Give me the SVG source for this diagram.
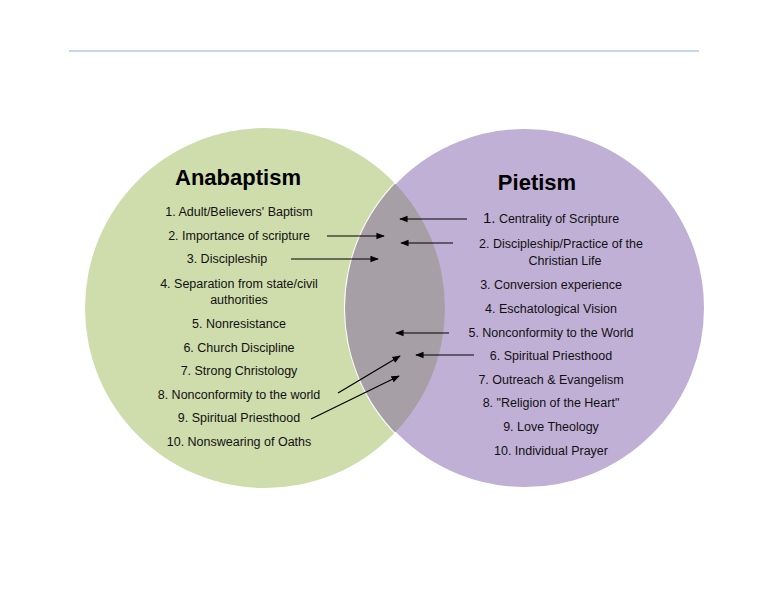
<svg xmlns="http://www.w3.org/2000/svg" width="768" height="594" viewBox="0 0 768 594">
<style>
.t{font-family:"Liberation Sans",Arial,sans-serif;font-size:12.5px;fill:#111;text-anchor:middle}
.h{font-family:"Liberation Sans",Arial,sans-serif;font-size:22px;font-weight:bold;fill:#000;text-anchor:middle}
.a{stroke:#000;stroke-width:1.2;fill:none;marker-end:url(#ar)}
</style>
<defs>
<marker id="ar" viewBox="0 0 10 10" refX="9" refY="5" markerWidth="7" markerHeight="7" orient="auto"><path d="M0,1 L10,5 L0,9 z" fill="#000"/></marker>
<clipPath id="cl"><circle cx="265" cy="308" r="180"/></clipPath>
</defs>
<rect width="768" height="594" fill="#fff"/>
<line x1="69" y1="51" x2="699" y2="51" stroke="#8fb0e0" stroke-width="1.2"/>
<g id="anabaptism"><circle cx="265" cy="308" r="180" fill="#cfdcac"/></g>
<g id="pietism"><circle cx="525" cy="308" r="180" fill="#c0b0d6" stroke="#fff" stroke-width="2"/></g>
<g id="overlap"><circle cx="525" cy="308" r="180" fill="#a69fa5" clip-path="url(#cl)"/></g>
<g id="anabaptism-text">
<text class="h" x="238" y="185">Anabaptism</text>
<text class="t" x="239" y="216">1.  Adult/Believers' Baptism</text>
<text class="t" x="239" y="240">2.  Importance of scripture</text>
<text class="t" x="227" y="263">3.  Discipleship</text>
<text class="t" x="239" y="288">4.  Separation from state/civil</text>
<text class="t" x="239" y="304">authorities</text>
<text class="t" x="239" y="328">5.  Nonresistance</text>
<text class="t" x="239" y="352">6.  Church Discipline</text>
<text class="t" x="239" y="375">7.  Strong Christology</text>
<text class="t" x="239" y="399">8.  Nonconformity to the world</text>
<text class="t" x="239" y="422">9.  Spiritual Priesthood</text>
<text class="t" x="239" y="446">10.  Nonswearing of Oaths</text>
</g>
<g id="pietism-text">
<text class="h" x="537" y="190">Pietism</text>
<text class="t" x="551" y="223"><tspan font-size="15">1.</tspan> Centrality of Scripture</text>
<text class="t" x="561" y="248">2.  Discipleship/Practice of the</text>
<text class="t" x="565" y="265">Christian Life</text>
<text class="t" x="551" y="289">3.  Conversion experience</text>
<text class="t" x="551" y="313">4.  Eschatological Vision</text>
<text class="t" x="551" y="337">5. Nonconformity to the World</text>
<text class="t" x="551" y="360">6.  Spiritual Priesthood</text>
<text class="t" x="551" y="384">7.  Outreach &amp; Evangelism</text>
<text class="t" x="551" y="407">8.  "Religion of the Heart"</text>
<text class="t" x="551" y="431">9.  Love Theology</text>
<text class="t" x="551" y="455">10.  Individual Prayer</text>
</g>
<g id="connectors">
<line class="a" x1="467" y1="219" x2="400" y2="219"/>
<line class="a" x1="453" y1="243" x2="401" y2="243"/>
<line class="a" x1="327" y1="236" x2="384" y2="236"/>
<line class="a" x1="291" y1="259" x2="378" y2="259"/>
<line class="a" x1="449" y1="333" x2="396" y2="333"/>
<line class="a" x1="474" y1="355" x2="416" y2="355"/>
<line class="a" x1="338" y1="393" x2="400" y2="356"/>
<line class="a" x1="311" y1="419" x2="399" y2="376"/>
</g>
</svg>
